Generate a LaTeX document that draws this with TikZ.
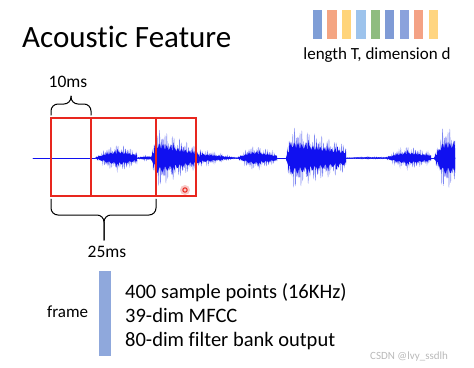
\documentclass[tikz,border=0pt]{standalone}
\usepackage{fontspec}
\setmainfont{Carlito}[Ligatures=NoCommon]
\definecolor{winred}{HTML}{E8261E}
\definecolor{framebar}{HTML}{8FA8DC}
\definecolor{wavedark}{HTML}{1010F0}
\definecolor{wavelight}{HTML}{7C86F2}
\tikzset{
  txt/.style={inner sep=0pt,anchor=base west},
  win/.style={draw=winred,line width=2pt,minimum width=105pt,minimum height=78pt,inner sep=0pt},
  brace/.style={line width=1pt,rounded corners=7pt},
}
\begin{document}
\begin{tikzpicture}[x=1pt,y=-1pt,line cap=round]
\useasboundingbox (0,0) rectangle (474,367);
\def\base{158}
\def\env{\amp*min(\x/(\rise*\len),1)*(1-\fall*\x/\len)/(1-\fall*\rise)}

% title and feature bars
\node[txt,font=\fontsize{31}{34}\selectfont] (title) at (22,47) {Acoustic Feature};
\foreach \c[count=\i from 0] in {7F9ED6,F4A582,FFD47A,9DC3EC,8FBC80,7F9BD6,8BA2DC,F4A285,FFD580} {
  \definecolor{bar}{HTML}{\c}
  \fill[bar] (313+\i*14.45,10) rectangle ++(9.2,29);
}
\node[inner sep=0pt,anchor=base,font=\fontsize{17}{20}\selectfont] (seqlabel) at (377,59) {length T, dimension d};

% waveform
\draw[wavedark,line width=.6pt] (33,\base) -- (455,\base);
\foreach \st/\len/\amp/\rise/\fall in {95/42/14/.6/.75,137/15/3/.5/.5,151/48/31/.12/.7,199/38/9/.02/.95,
    237/40/13/.45/.75,286/60/33/.08/.6,346/40/1.5/.5/.5,385/46/12/.5/.7,434/21/31/.4/0}{
  \pgfmathtruncatemacro\n{4*\len+1}
  \pgfmathtruncatemacro\m{\len+1}
  \draw[wavelight,line width=.4pt] plot[domain=0:\len,samples=\n,variable=\x]
    ({\st+\x},{\base+\env*sin(\x*199)*(.75+.25*sin(\x*53))});
  \fill[wavedark] plot[domain=0:\len,samples=\m,variable=\x] ({\st+\x},{\base-.5*\env*(.8+.2*sin(\x*97))})
    -- plot[domain=\len:0,samples=\m,variable=\x] ({\st+\x},{\base+.5*\env*(.8+.2*sin(\x*71))}) -- cycle;
  \draw[wavedark,line width=.4pt] plot[domain=0:\len,samples=\n,variable=\x]
    ({\st+\x},{\base+.7*\env*sin(\x*173)*(.6+.4*sin(\x*37))});
}

% analysis windows
\node[win] (win1) at (103.5,157) {};
\node[win] (win2) at (143.5,157) {};
\fill[winred!25] (185,190) circle (5);
\draw[winred,line width=1pt] (185,190) circle (2.2);

% braces
\draw[brace] (51,115) |- (71,104) -- (71,96);
\draw[brace] (91,115) |- (71,104) -- (71,96);
\node[inner sep=0pt,anchor=base,font=\fontsize{17.5}{20}\selectfont] (shift) at (68,87) {10ms};
\draw[brace] (51,199) |- (104,215) -- (104,240);
\draw[brace] (156,199) |- (104,215) -- (104,240);
\node[inner sep=0pt,anchor=base,font=\fontsize{17.5}{20}\selectfont] (width) at (107,257) {25ms};

% one frame
\fill[framebar] (99,271) rectangle (111,356);
\node[txt,font=\fontsize{17}{20}\selectfont] (frame) at (47,317) {frame};
\node[txt,font=\fontsize{20.5}{24}\selectfont] (samples) at (125,298) {400 sample points (16KHz)};
\node[txt,font=\fontsize{20.5}{24}\selectfont] (mfcc) at (125,322) {39-dim MFCC};
\node[txt,font=\fontsize{20.5}{24}\selectfont] (fbank) at (125,346) {80-dim filter bank output};
\node[txt,text=gray!55,font=\fontsize{11}{12}\selectfont] (mark) at (370,359) {CSDN @lvy\_ssdlh};
\end{tikzpicture}
\end{document}
